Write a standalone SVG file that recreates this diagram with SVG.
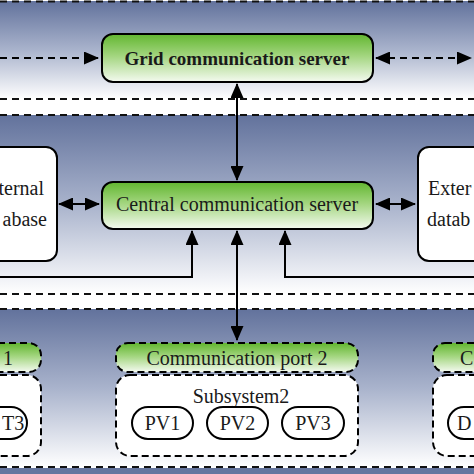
<svg xmlns="http://www.w3.org/2000/svg" width="474" height="474" viewBox="0 0 474 474">
<defs>
<linearGradient id="band" x1="0" y1="0" x2="0" y2="1">
<stop offset="0" stop-color="#62729c"/>
<stop offset="0.5" stop-color="#a9b3cc"/>
<stop offset="1" stop-color="#ffffff"/>
</linearGradient>
<linearGradient id="green" x1="0" y1="0" x2="0" y2="1">
<stop offset="0" stop-color="#62b630"/>
<stop offset="0.45" stop-color="#a2d57e"/>
<stop offset="1" stop-color="#f4faf0"/>
</linearGradient>
<marker id="ah" viewBox="0 0 15 13" refX="14" refY="6.5" markerWidth="15" markerHeight="13" markerUnits="userSpaceOnUse" orient="auto-start-reverse">
<path d="M0,0 L15,6.5 L0,13 Z" fill="#000"/>
</marker>
<style>
.bandline{stroke:#111;stroke-width:2;stroke-dasharray:7 5;fill:none}
.box{stroke:#000;stroke-width:2}
.dbox{stroke:#000;stroke-width:2;stroke-dasharray:7 4}
.t{font-family:"Liberation Serif","DejaVu Serif",serif;font-size:20px;fill:#1a1a1a}
.tb{font-family:"Liberation Serif","DejaVu Serif",serif;font-size:19px;font-weight:bold;fill:#1a1a1a}
.c{stroke:#000;stroke-width:2;fill:none}
.cd{stroke:#000;stroke-width:2;fill:none;stroke-dasharray:7 5}
</style>
</defs>

<g id="background">
<rect x="0" y="0" width="474" height="474" fill="#ffffff"/>
<rect x="0" y="1" width="474" height="98" fill="url(#band)"/>
<rect x="0" y="115" width="474" height="179" fill="url(#band)"/>
<rect x="0" y="309" width="474" height="158" fill="url(#band)"/>
<rect x="0" y="468" width="474" height="6" fill="#66769f"/>
<line class="bandline" x1="0" y1="1.5" x2="474" y2="1.5"/>
<line class="bandline" x1="0" y1="99" x2="474" y2="99"/>
<line class="bandline" x1="0" y1="115" x2="474" y2="115"/>
<line class="bandline" x1="0" y1="294" x2="474" y2="294"/>
<line class="bandline" x1="0" y1="309" x2="474" y2="309"/>
<line class="bandline" x1="0" y1="467" x2="474" y2="467"/>
</g>

<g id="connectors">
<line class="cd" x1="0" y1="58" x2="98" y2="58" marker-end="url(#ah)"/>
<line class="cd" x1="376" y1="58" x2="471" y2="58" marker-start="url(#ah)" marker-end="url(#ah)"/>
<line class="c" x1="237" y1="84" x2="237" y2="180" marker-start="url(#ah)" marker-end="url(#ah)"/>
<line class="c" x1="59" y1="204" x2="99" y2="204" marker-start="url(#ah)" marker-end="url(#ah)"/>
<line class="c" x1="376" y1="204" x2="415" y2="204" marker-start="url(#ah)" marker-end="url(#ah)"/>
<path class="c" d="M0,277 H192 V231" marker-end="url(#ah)"/>
<path class="c" d="M474,277 H285 V231" marker-end="url(#ah)"/>
<line class="c" x1="237" y1="231" x2="237" y2="340" marker-start="url(#ah)" marker-end="url(#ah)"/>
</g>

<g id="grid-server">
<rect class="box" x="102" y="34" width="271" height="48" rx="11" fill="url(#green)"/>
<text class="tb" x="237" y="65" text-anchor="middle">Grid communication server</text>
</g>

<g id="central-server">
<rect class="box" x="102" y="182" width="271" height="47" rx="11" fill="url(#green)"/>
<text class="t" x="237" y="211" text-anchor="middle">Central communication server</text>
</g>

<g id="external-db-left">
<rect class="box" x="-34" y="147" width="91" height="114" rx="11" fill="#ffffff"/>
<text class="t" x="44" y="195" text-anchor="end">ternal</text>
<text class="t" x="47" y="226" text-anchor="end">abase</text>
</g>

<g id="external-db-right">
<rect class="box" x="418" y="147" width="91" height="114" rx="11" fill="#ffffff"/>
<text class="t" x="428" y="195">Exter</text>
<text class="t" x="427" y="226">datab</text>
</g>

<g id="subsystem1">
<rect class="dbox" x="-201" y="375" width="242" height="81" rx="14" fill="#ffffff"/>
<rect class="dbox" x="-201" y="343" width="242" height="29" rx="12" fill="url(#green)"/>
<text class="t" x="13" y="365" text-anchor="end">1</text>
<rect class="box" x="-35" y="407" width="62" height="32" rx="16" fill="#ffffff"/>
<text class="t" x="2" y="430">T3</text>
</g>

<g id="subsystem2">
<rect class="dbox" x="116" y="375" width="242" height="81" rx="14" fill="#ffffff"/>
<rect class="dbox" x="116" y="343" width="242" height="29" rx="12" fill="url(#green)"/>
<text class="t" x="237" y="365" text-anchor="middle">Communication port 2</text>
<text class="t" x="241" y="403" text-anchor="middle">Subsystem2</text>
</g>
<g id="pv1">
<rect class="box" x="132" y="407" width="61" height="32" rx="16" fill="#ffffff"/>
<text class="t" x="162.5" y="430" text-anchor="middle">PV1</text>
</g>
<g id="pv2">
<rect class="box" x="207" y="407" width="61" height="32" rx="16" fill="#ffffff"/>
<text class="t" x="237.5" y="430" text-anchor="middle">PV2</text>
</g>
<g id="pv3">
<rect class="box" x="282" y="407" width="62" height="32" rx="16" fill="#ffffff"/>
<text class="t" x="313" y="430" text-anchor="middle">PV3</text>
</g>

<g id="subsystem3">
<rect class="dbox" x="433" y="375" width="242" height="81" rx="14" fill="#ffffff"/>
<rect class="dbox" x="433" y="343" width="242" height="29" rx="12" fill="url(#green)"/>
<text class="t" x="460" y="365">C</text>
<rect class="box" x="448" y="407" width="62" height="32" rx="16" fill="#ffffff"/>
<text class="t" x="457" y="430">D</text>
</g>
</svg>
